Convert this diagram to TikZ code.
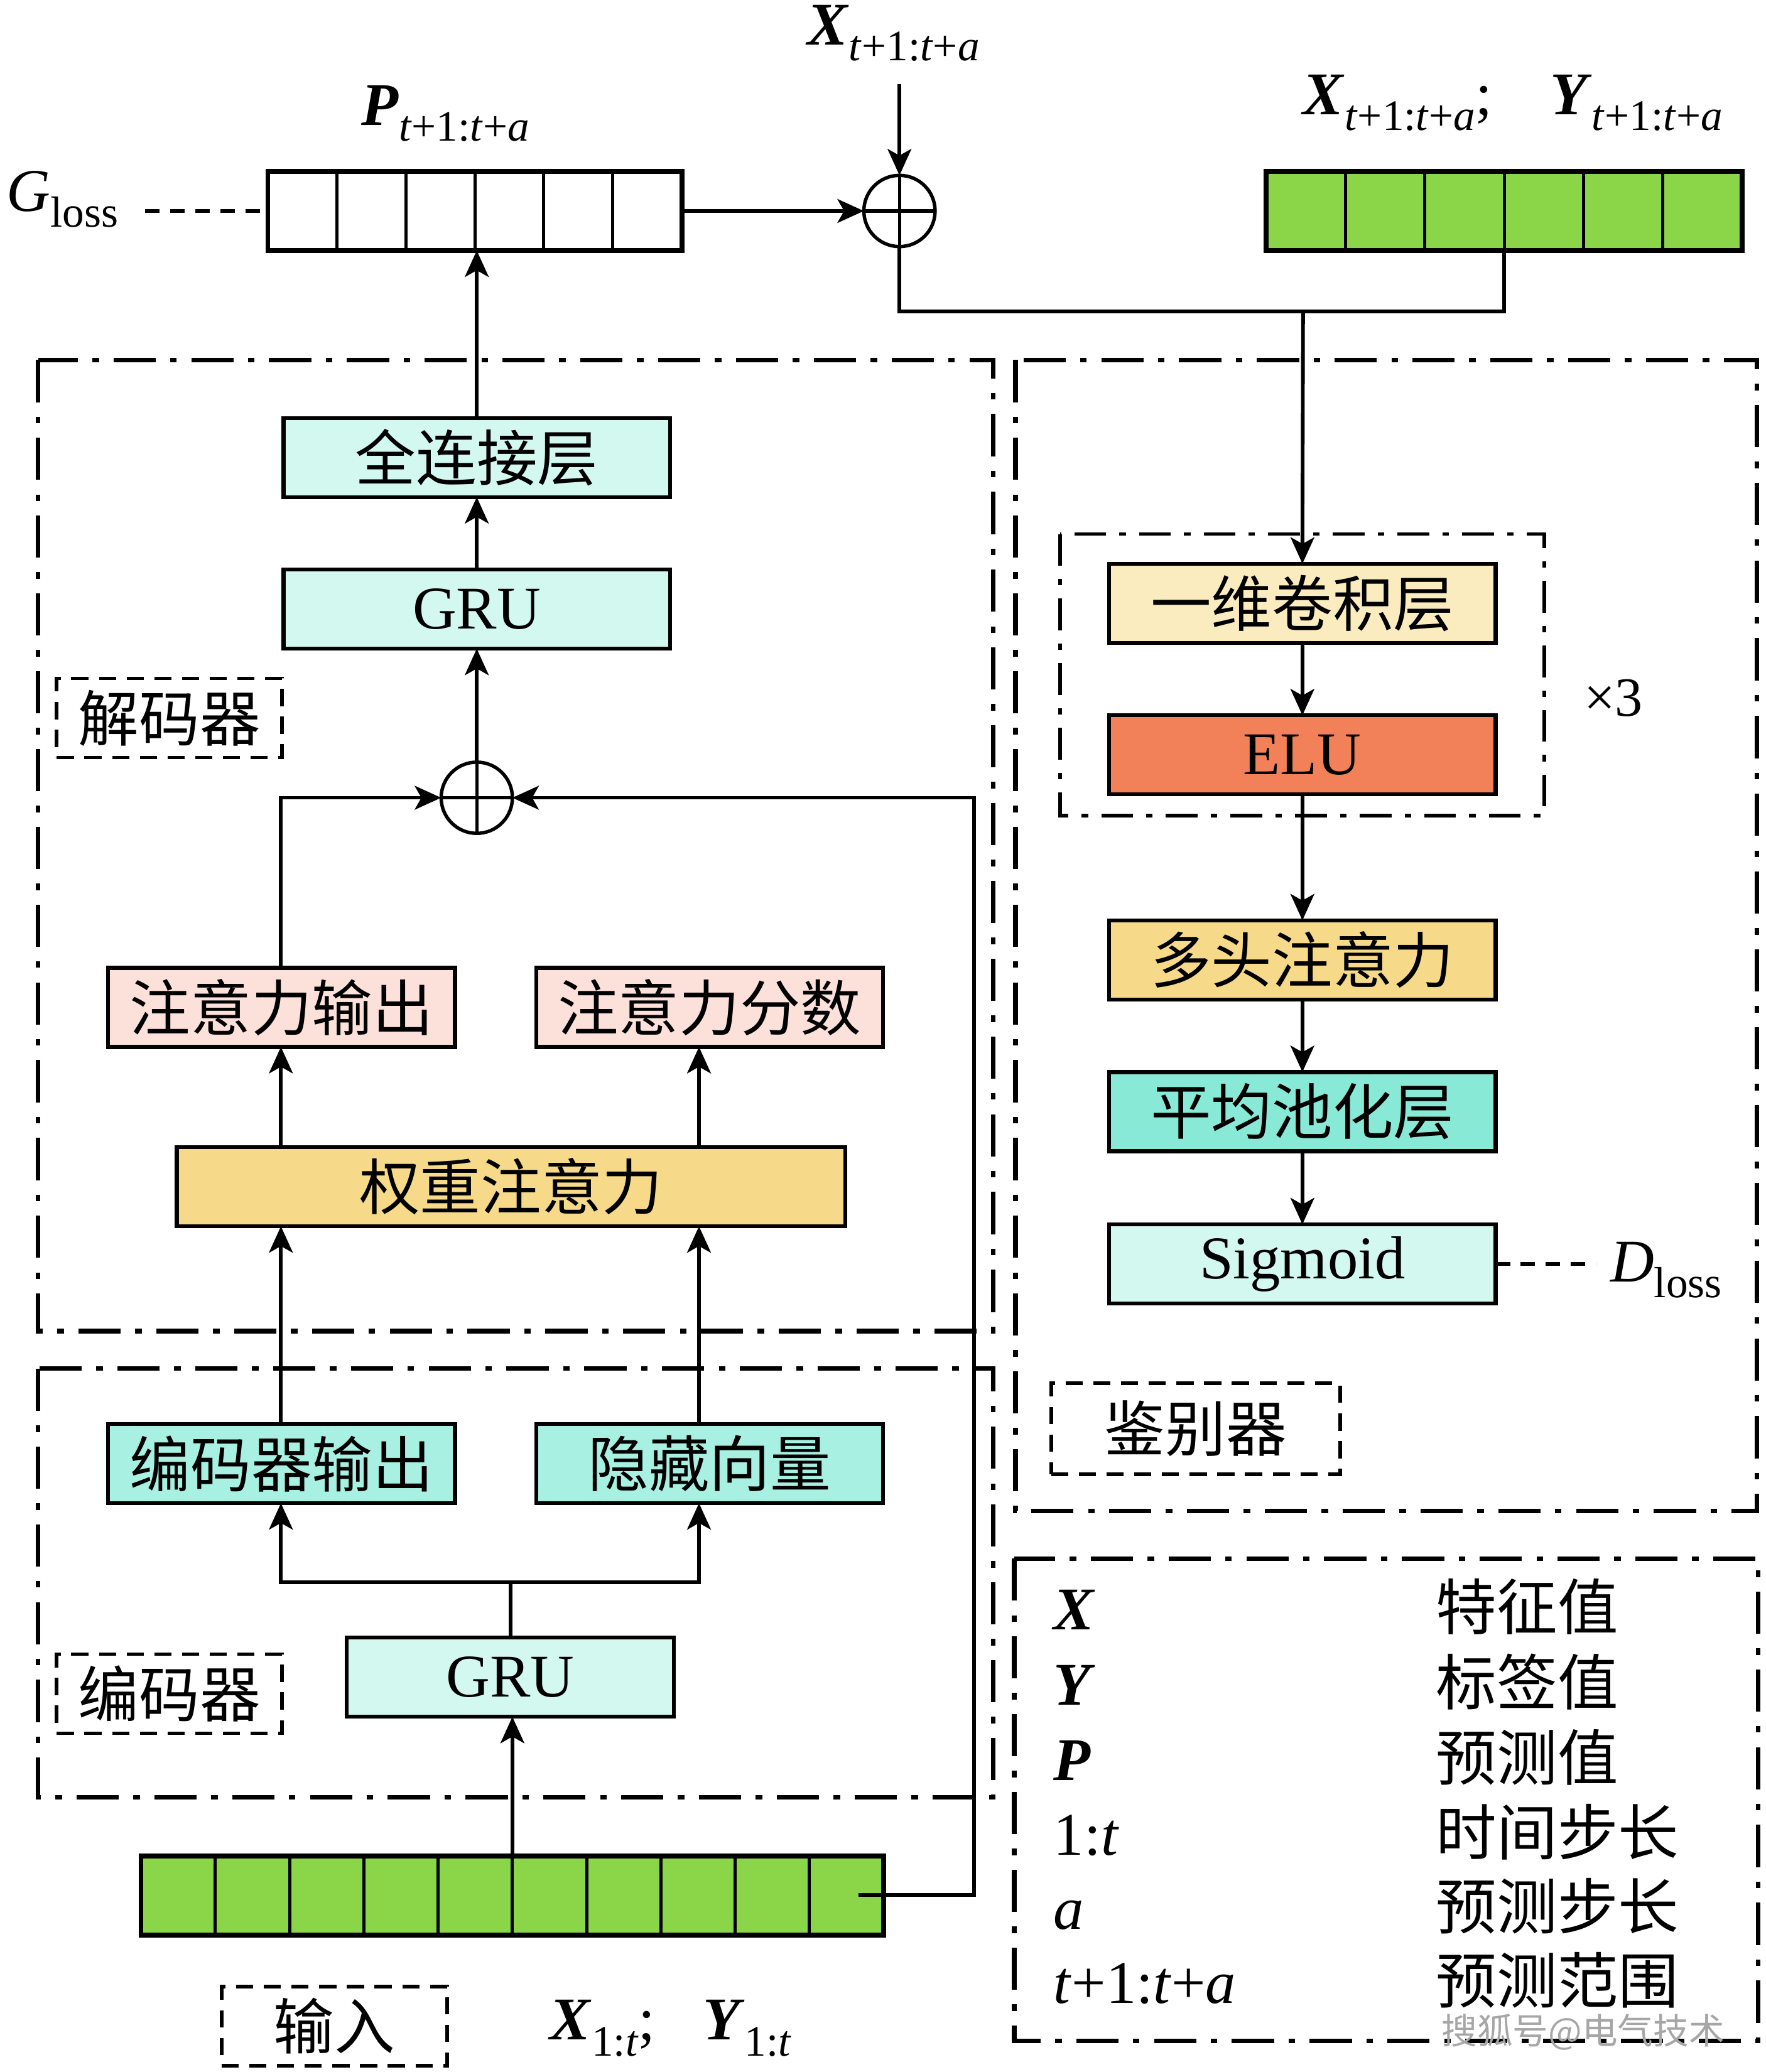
\documentclass[tikz,border=0pt]{standalone}
\usepackage{fontspec}
\setmainfont{Liberation Serif}
\newfontfamily\cjk{Noto Sans CJK SC}
\usetikzlibrary{arrows.meta,calc}

\definecolor{cyanL}{RGB}{211,248,240}
\definecolor{cyanM}{RGB}{168,240,226}
\definecolor{cyanD}{RGB}{136,234,214}
\definecolor{pinkL}{RGB}{252,224,218}
\definecolor{goldY}{RGB}{246,218,138}
\definecolor{creamY}{RGB}{251,236,192}
\definecolor{eluO}{RGB}{242,128,88}
\definecolor{greenC}{RGB}{138,214,72}

\newcommand\tsx{\textit{t}+1:\textit{t}+\textit{a}}
\newcommand\sbs[1]{\raisebox{-12pt}{\fontsize{33}{33}\selectfont #1}}
\newcommand\bi[1]{\textbf{\textit{#1}}}

\begin{document}
\begin{tikzpicture}[x=1pt,y=-1pt,
  every node/.style={inner sep=0pt, outer sep=0pt},
  box/.style={draw, line width=3pt, minimum height=60pt, font=\fontsize{46}{46}\selectfont},
  wide/.style={box, minimum width=293pt},
  mid/.style={box, minimum width=263pt},
  lblbox/.style={draw, line width=2.8pt, dash pattern=on 13pt off 8pt, minimum width=171pt, minimum height=60pt, font=\fontsize{46}{46}\selectfont\cjk},
  frame/.style={line width=3.4pt, dash pattern=on 32pt off 11pt on 5pt off 11pt},
  rframe/.style={line width=2.8pt, dash pattern=on 24pt off 10pt on 5pt off 10pt},
  conn/.style={line width=2.8pt},
  arr/.style={conn, -{Stealth[length=20pt, width=18pt, inset=5pt]}},
  lossd/.style={line width=2.8pt, dash pattern=on 11pt off 8pt},
  sumc/.style={circle, draw, line width=2.6pt, minimum size=54pt},
  seq/.style={draw, line width=3.6pt, minimum height=60pt},
  lab/.style={anchor=base west, font=\fontsize{46}{46}\selectfont},
  cjklab/.style={anchor=base west, font=\fontsize{46}{46}\selectfont\cjk}
]
\fill[white] (0,0) rectangle (1338.6,1571.4);
\useasboundingbox (0,0) rectangle (1338.6,1571.4);

% ---------- frames ----------
\draw[frame] (29,273) rectangle (753,1009.5);
\draw[frame] (29,1038) rectangle (753,1363);
\draw[frame] (770,273) rectangle (1332,1146);
\draw[frame] (769,1182) rectangle (1333,1548);
\draw[rframe] (803.6,405) rectangle (1171,618.6);

% ---------- top row ----------
\node[seq, minimum width=314pt] (pbox) at (360,160) {};
\foreach \i in {1,...,5}
  \draw[line width=2.4pt] ($(pbox.south west)!\i/6!(pbox.south east)$) -- ($(pbox.north west)!\i/6!(pbox.north east)$);
\node[seq, fill=greenC, minimum width=361pt] (gtop) at (1140.5,160) {};
\foreach \i in {1,...,5}
  \draw[line width=2.4pt] ($(gtop.south west)!\i/6!(gtop.south east)$) -- ($(gtop.north west)!\i/6!(gtop.north east)$);
\node[sumc] (sumT) at (682,160) {};
\draw[line width=2.4pt] (sumT.north) -- (sumT.south);
\draw[line width=2.4pt] (sumT.west) -- (sumT.east);

\node[lab] (lblP) at (274,95) {\bi{P}\sbs{\tsx}};
\node[lab] (lblXt) at (612,34) {\bi{X}\sbs{\tsx}};
\node[lab] (lblG) at (5,160) {\textit{G}\sbs{loss}};
\node[lab] (lblXY) at (988,87) {\bi{X}\sbs{\tsx};\hspace{44pt}\bi{Y}\sbs{\tsx}};

\coordinate (gl) at (110,160);
\coordinate (xin) at (682,64);
\coordinate (j) at (988,236);

% ---------- decoder ----------
\node[wide, fill=cyanL] (fc) at (361.5,347) {\cjk 全连接层};
\node[wide, fill=cyanL] (gruD) at (361.5,462) {GRU};
\node[sumc] (sumD) at (361.5,605) {};
\draw[line width=2.4pt] (sumD.north) -- (sumD.south);
\draw[line width=2.4pt] (sumD.west) -- (sumD.east);
\node[lblbox] (decL) at (128.5,544.5) {解码器};
\node[mid, fill=pinkL] (attOut) at (213.5,764) {\cjk 注意力输出};
\node[mid, fill=pinkL] (attSc) at (538,764) {\cjk 注意力分数};
\node[box, fill=goldY, minimum width=507pt] (wAtt) at (387.5,900) {\cjk 权重注意力};

% ---------- encoder ----------
\node[mid, fill=cyanM] (encOut) at (213.5,1110) {\cjk 编码器输出};
\node[mid, fill=cyanM] (hid) at (538,1110) {\cjk 隐藏向量};
\node[box, fill=cyanL, minimum width=248pt] (gruE) at (387,1272) {GRU};
\node[lblbox] (encL) at (128.5,1284.5) {编码器};

% ---------- input ----------
\node[seq, fill=greenC, minimum width=563pt] (inbox) at (388.5,1437.5) {};
\foreach \i in {1,...,9}
  \draw[line width=2.4pt] ($(inbox.south west)!\i/10!(inbox.south east)$) -- ($(inbox.north west)!\i/10!(inbox.north east)$);
\node[lblbox] (inL) at (253.5,1536.5) {输入};
\node[lab] (lblIn) at (417,1547) {\bi{X}\sbs{1:\textit{t}};\hspace{36pt}\bi{Y}\sbs{1:\textit{t}}};

\coordinate (colL) at (213,0);
\coordinate (colR) at (530,0);
\coordinate (fk) at (387,1200);
\coordinate (incell) at (651,1437);
\coordinate (cR) at (738.6,1437);

% ---------- discriminator ----------
\node[wide, fill=creamY] (conv) at (987.5,457.5) {\cjk 一维卷积层};
\node[wide, fill=eluO] (elu) at (987.5,572.5) {ELU};
\node[wide, fill=goldY] (mha) at (987.5,728) {\cjk 多头注意力};
\node[wide, fill=cyanD] (pool) at (987.5,843) {\cjk 平均池化层};
\node[wide, fill=cyanL] (sig) at (987.5,958.5) {Sigmoid};
\node[anchor=base west, font=\fontsize{42}{42}\selectfont] (x3) at (1201,543) {×3};
\node[lab] (lblD) at (1221,972) {\textit{D}\sbs{loss}};
\coordinate (dl) at (1210,958.5);
\node[lblbox, minimum width=219pt, minimum height=69pt] (disL) at (906.5,1083.5) {鉴别器};

% ---------- legend ----------
\node[lab] (k1) at (799,1236) {\bi{X}};
\node[lab] (k2) at (799,1293) {\bi{Y}};
\node[lab] (k3) at (799,1350) {\bi{P}};
\node[lab] (k4) at (799,1407) {1:\textit{t}};
\node[lab] (k5) at (799,1463) {\textit{a}};
\node[lab] (k6) at (799,1519) {\tsx};
\node[cjklab] (v1) at (1089,1236) {特征值};
\node[cjklab] (v2) at (1089,1293) {标签值};
\node[cjklab] (v3) at (1089,1350) {预测值};
\node[cjklab] (v4) at (1089,1407) {时间步长};
\node[cjklab] (v5) at (1089,1463) {预测步长};
\node[cjklab] (v6) at (1089,1519) {预测范围};

\node[anchor=west, text=black!35, font=\fontsize{27}{27}\selectfont\cjk] (wm) at (1093,1541) {搜狐号@电气技术};

% ---------- connectors ----------
\draw[lossd] (gl) -- (pbox.west);
\draw[arr] (fc.north) -- (fc.north |- pbox.south);
\draw[arr] (pbox.east) -- (sumT.west);
\draw[arr] (xin) -- (sumT.north);
\draw[conn] (sumT.south) |- (gtop.south |- j) -- (gtop.south);
\draw[arr] (j) -- (conv.north);
\draw[arr] (conv.south) -- (elu.north);
\draw[arr] (elu.south) -- (mha.north);
\draw[arr] (mha.south) -- (pool.north);
\draw[arr] (pool.south) -- (sig.north);
\draw[lossd] (sig.east) -- (dl);

\draw[arr] (gruD.north) -- (fc.south);
\draw[arr] (sumD.north) -- (gruD.south);
\draw[arr] (attOut.north -| colL) |- (sumD.west);
\draw[arr] (incell) -- (cR) |- (sumD.east);
\draw[arr] (colL |- wAtt.north) -- (colL |- attOut.south);
\draw[arr] (colR |- wAtt.north) -- (colR |- attSc.south);
\draw[arr] (colL |- encOut.north) -- (colL |- wAtt.south);
\draw[arr] (colR |- hid.north) -- (colR |- wAtt.south);
\draw[conn] (gruE.north) -- (fk);
\draw[arr] (fk) -| (colL |- encOut.south);
\draw[arr] (fk) -| (colR |- hid.south);
\draw[arr] (inbox.north) -- (inbox.north |- gruE.south);
\end{tikzpicture}
\end{document}
